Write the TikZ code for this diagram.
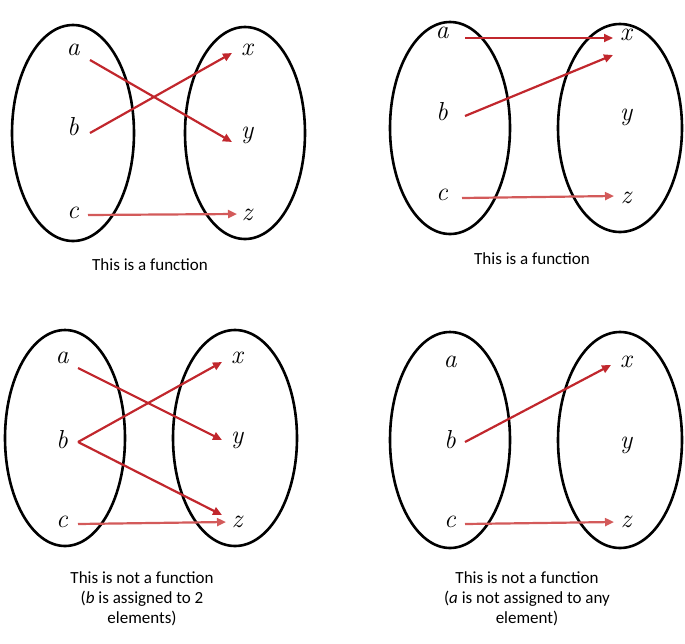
\documentclass[tikz,border=0pt]{standalone}
\usepackage{fontspec}
\setsansfont{Carlito}
\usetikzlibrary{arrows.meta}
\definecolor{dred}{HTML}{C1272D}
\definecolor{lred}{HTML}{D35A5A}
\begin{document}
\begin{tikzpicture}[x=1pt,y=-1pt,
  set/.style={draw,line width=2.6pt},
  el/.style={font=\fontsize{26}{26}\selectfont\itshape,inner sep=1pt},
  captext/.style={font=\sffamily\fontsize{17}{20}\selectfont,align=center},
  arr/.style={-{Triangle[length=9pt,width=8pt]},line width=2.2pt,dred},
  arrl/.style={arr,lred}]
\useasboundingbox (0,0) rectangle (685,643);
% panel 1
\draw[set] (73,133) ellipse [x radius=61,y radius=108];
\draw[set] (245,133) ellipse [x radius=60,y radius=106];
\node[el] (a1) at (73,50) {a}; \node[el] (b1) at (73,127) {b}; \node[el] (c1) at (73,213) {c};
\node[el] (x1) at (247,50) {x}; \node[el] (y1) at (247,135) {y}; \node[el] (z1) at (247,215) {z};
\draw[arr] (90,60) -- (232,142);
\draw[arr] (90,133) -- (232,53);
\draw[arrl] (88,215) -- (237,214);
\node[captext] (t1) at (150,265) {This is a function};
% panel 2
\draw[set] (450,128) ellipse [x radius=60,y radius=106];
\draw[set] (620,128) ellipse [x radius=62,y radius=104];
\node[el] (a2) at (442,33) {a}; \node[el] (b2) at (442,112) {b}; \node[el] (c2) at (442,195) {c};
\node[el] (x2) at (626,35) {x}; \node[el] (y2) at (626,117) {y}; \node[el] (z2) at (626,198) {z};
\draw[arr] (465,38) -- (613,38);
\draw[arr] (465,116) -- (613,55);
\draw[arrl] (462,198) -- (614,196);
\node[captext] (t2) at (532,259) {This is a function};
% panel 3
\draw[set] (65,438) ellipse [x radius=60,y radius=108];
\draw[set] (235,438) ellipse [x radius=62,y radius=108];
\node[el] (a3) at (62,358) {a}; \node[el] (b3) at (62,440) {b}; \node[el] (c3) at (62,522) {c};
\node[el] (x3) at (237,358) {x}; \node[el] (y3) at (237,440) {y}; \node[el] (z3) at (237,522) {z};
\draw[arr] (78,368) -- (222,440);
\draw[arr] (78,442) -- (222,362);
\draw[arr] (78,442) -- (222,515);
\draw[arrl] (78,524) -- (226,522);
\node[captext] (t3) at (142,599) {This is not a function\\(\textit{b} is assigned to 2\\elements)};
% panel 4
\draw[set] (450,440) ellipse [x radius=60,y radius=108];
\draw[set] (620,440) ellipse [x radius=62,y radius=108];
\node[el] (a4) at (450,362) {a}; \node[el] (b4) at (450,440) {b}; \node[el] (c4) at (450,522) {c};
\node[el] (x4) at (626,362) {x}; \node[el] (y4) at (626,445) {y}; \node[el] (z4) at (626,522) {z};
\draw[arr] (465,442) -- (611,365);
\draw[arrl] (465,524) -- (614,522);
\node[captext] (t4) at (527,599) {This is not a function\\(\textit{a} is not assigned to any\\element)};
\end{tikzpicture}
\end{document}
